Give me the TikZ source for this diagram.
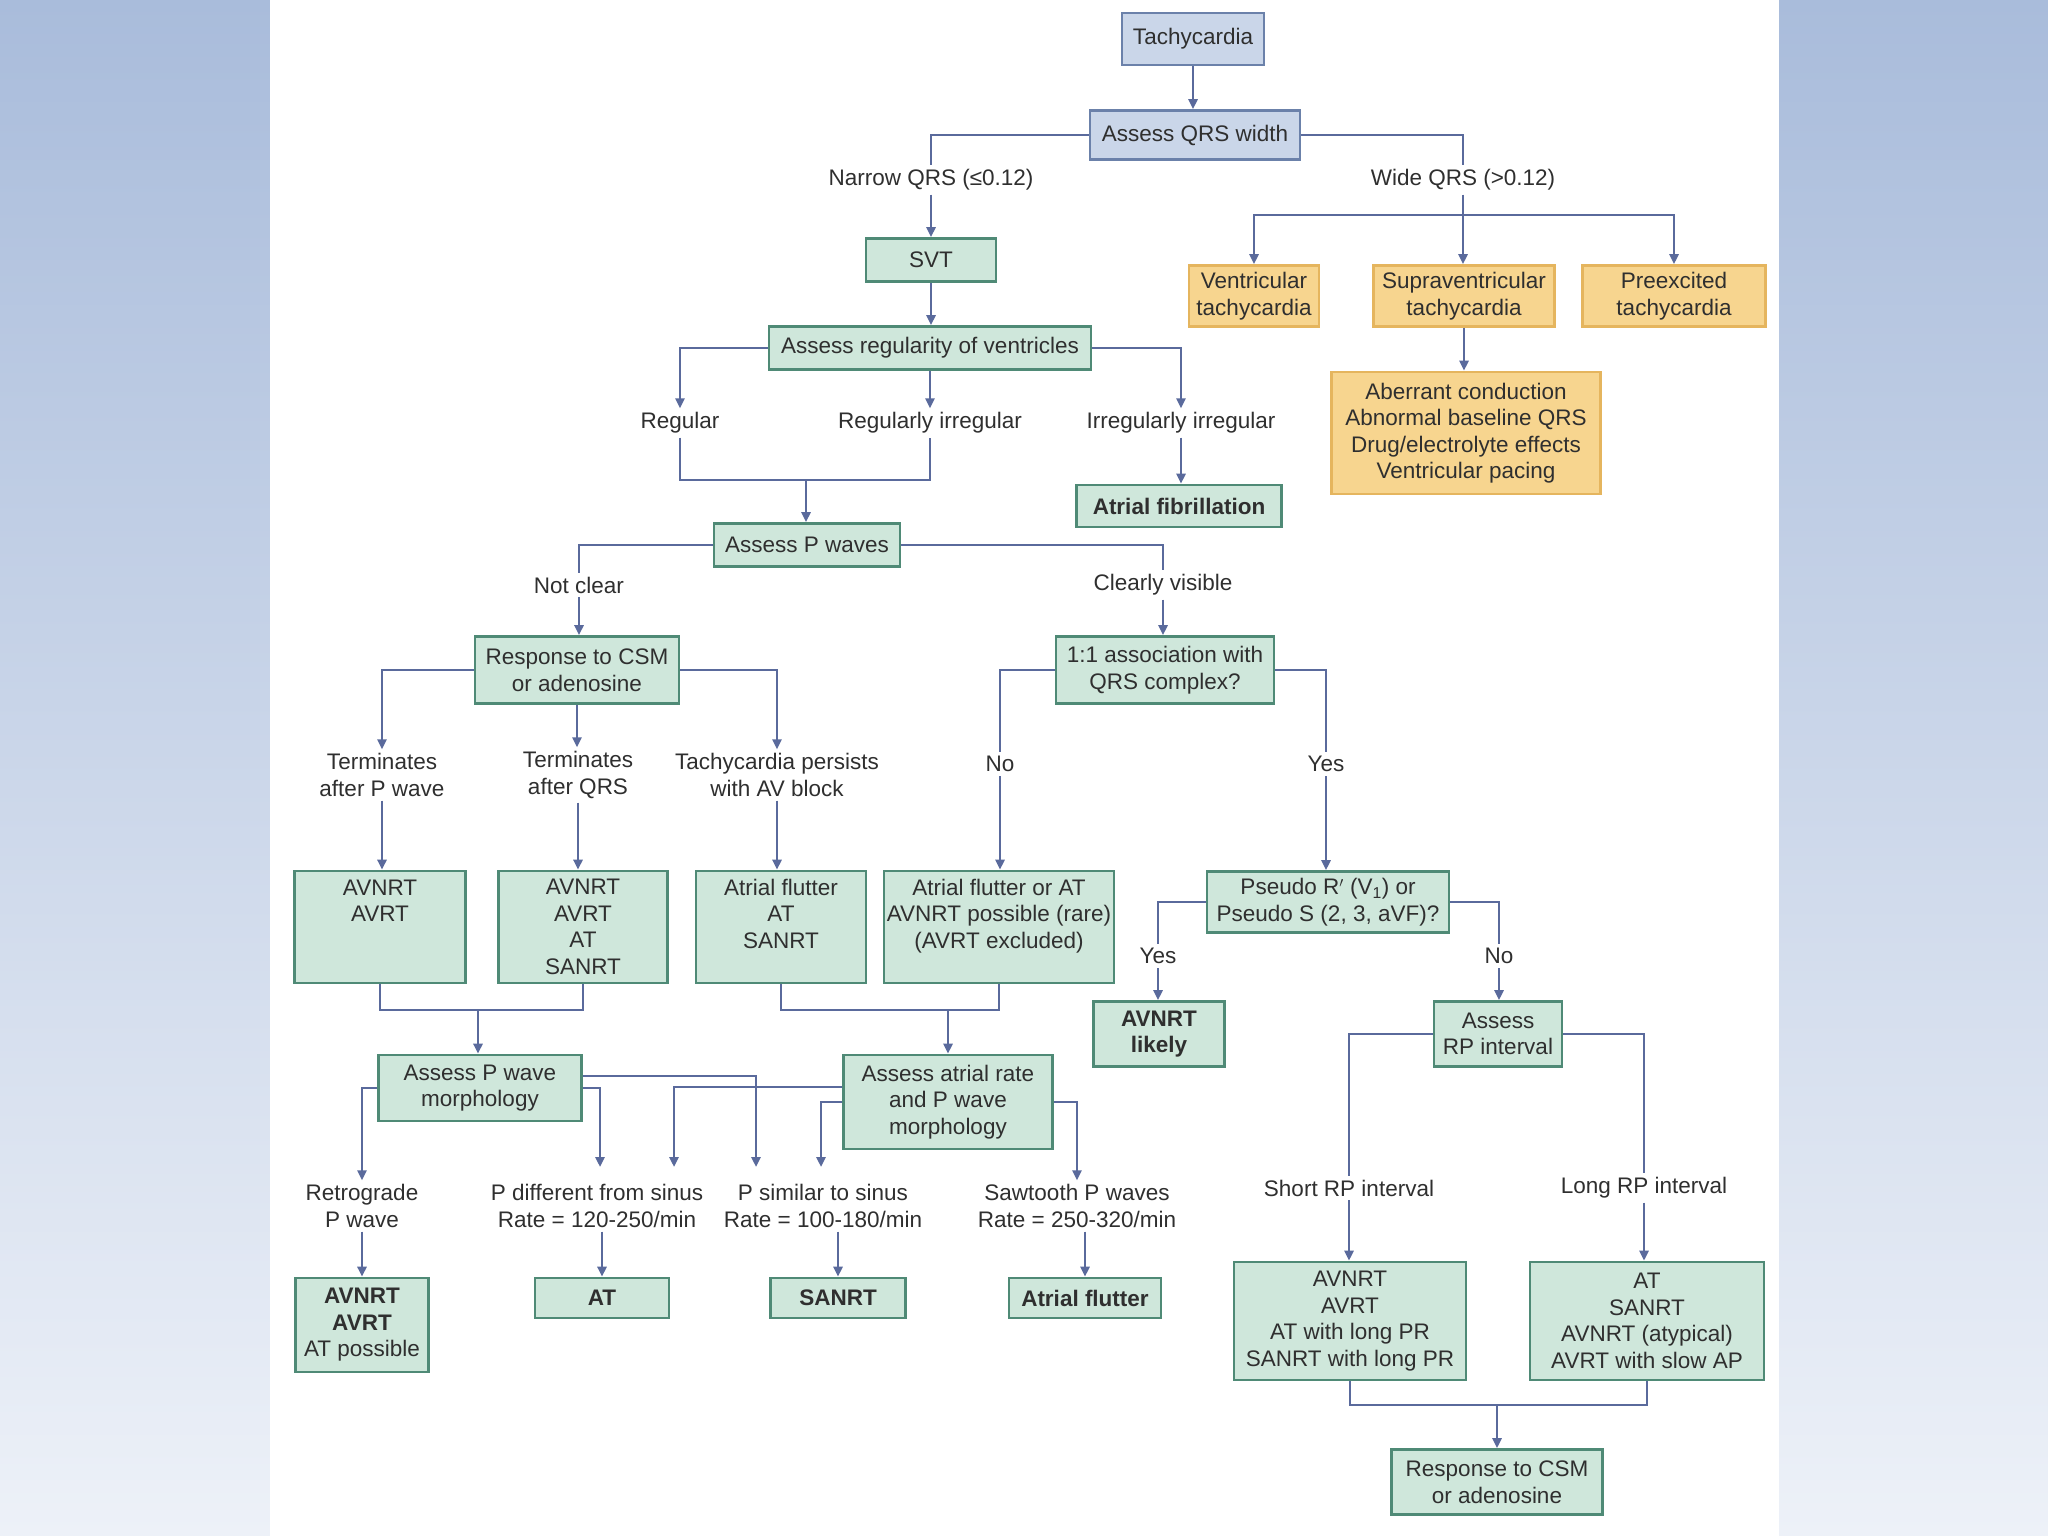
\documentclass[tikz,border=0pt]{standalone}
\usepackage{fontspec}
\setmainfont{Liberation Sans}
\usetikzlibrary{arrows.meta,positioning,calc}
\definecolor{ink}{HTML}{2F2F2F}
\definecolor{lnk}{HTML}{5A6A9C}
\definecolor{bluefill}{HTML}{CAD6E9}
\definecolor{blueline}{HTML}{6B81AA}
\definecolor{grnfill}{HTML}{CFE7DB}
\definecolor{grnline}{HTML}{4F8A76}
\definecolor{orgfill}{HTML}{F7D58F}
\definecolor{orgline}{HTML}{E5B55E}
\definecolor{bgtop}{HTML}{A9BCDB}
\definecolor{bgbot}{HTML}{EDF1F8}
\newcommand\dgfont{\fontsize{22.5}{26.5}\selectfont}
\tikzset{
  base/.style={align=center, inner sep=0pt, font=\dgfont, text=ink, line width=2.6pt},
  dim/.style 2 args={minimum width=#1pt, minimum height=#2pt},
  qbox/.style={base, fill=bluefill, draw=blueline},
  gbox/.style={base, fill=grnfill, draw=grnline},
  obox/.style={base, fill=orgfill, draw=orgline},
  lab/.style={align=center, inner sep=4pt, font=\dgfont, text=ink},
  wire/.style={line width=2.6pt, draw=lnk},
  arr/.style={wire, -{Triangle[length=10pt,width=9pt]}},
}

\begin{document}
\begin{tikzpicture}[x=1pt,y=-1pt]
        \useasboundingbox (0,0) rectangle (2048,1536);
        \fill[top color=bgtop, bottom color=bgbot] (0,0) rectangle (2048,1536);
        \fill[white] (270,0) rectangle (1779,1536);

        \node[qbox, dim={142}{52}] (tachy) at (1193,39) {Tachycardia};
        \node[qbox, dim={210}{49}] (qrs) at (1195,135) {Assess QRS width};
        \node[lab] (narrow) at (931,180) {Narrow QRS (≤0.12)};
        \node[lab] (wide) at (1463,180) {Wide QRS (>0.12)};
        \node[gbox, dim={130}{43}] (svt) at (931,260) {SVT};
        \node[obox, dim={130}{61}] (vt) at (1254,296) {Ventricular\\tachycardia};
        \node[obox, dim={181}{61}] (supra) at (1464,296) {Supraventricular\\tachycardia};
        \node[obox, dim={183}{61}] (pre) at (1674,296) {Preexcited\\tachycardia};
        \node[obox, dim={269}{122}] (aberr) at (1466,433) {Aberrant conduction\\Abnormal baseline QRS\\Drug/electrolyte effects\\Ventricular pacing};
        \node[gbox, dim={322}{43}] (regul) at (930,348) {Assess regularity of ventricles};
        \node[lab] (lreg) at (680,423) {Regular};
        \node[lab] (lregirr) at (930,423) {Regularly irregular};
        \node[lab] (lirr) at (1181,423) {Irregularly irregular};
        \node[gbox, dim={205}{42}] (afib) at (1179,506) {\textbf{Atrial fibrillation}};
        \node[gbox, dim={186}{43}] (pwav) at (807,545) {Assess P waves};
        \node[lab] (lnotclr) at (579,585) {Not clear};
        \node[lab] (lclear) at (1163,585) {Clearly visible};
        \node[gbox, dim={204}{67}] (csm) at (577,670) {Response to CSM\\or adenosine};
        \node[gbox, dim={218}{67}] (assoc) at (1165,670) {1:1 association with\\QRS complex?};
        \node[lab] (ltermp) at (382,775) {Terminates\\after P wave};
        \node[lab] (ltermq) at (578,775) {Terminates\\after QRS};
        \node[lab] (lpers) at (777,775) {Tachycardia persists\\with AV block};
        \node[lab] (lno) at (1000,764) {No};
        \node[lab] (lyes) at (1326,764) {Yes};
        \node[gbox, dim={171}{112}] (rowa) at (380,927) {AVNRT\\AVRT\\~\\~};
        \node[gbox, dim={169}{112}] (rowb) at (583,927) {AVNRT\\AVRT\\AT\\SANRT};
        \node[gbox, dim={170}{112}] (rowc) at (781,927) {Atrial flutter\\AT\\SANRT\\~};
        \node[gbox, dim={230}{112}] (rowd) at (999,927) {Atrial flutter or AT\\AVNRT possible (rare)\\(AVRT excluded)\\~};
        \node[gbox, dim={242}{61}] (pseudo) at (1328,902) {Pseudo R$'$ (V\textsubscript{1}) or\\Pseudo S (2, 3, aVF)?};
        \node[lab] (lyes2) at (1158,956) {Yes};
        \node[lab] (lno2) at (1499,956) {No};
        \node[gbox, dim={131}{65}] (avnrt) at (1159,1034) {\textbf{AVNRT}\\\textbf{likely}};
        \node[gbox, dim={128}{65}] (rpint) at (1498,1034) {Assess\\RP interval};
        \node[lab] (lshort) at (1349,1188) {Short RP interval};
        \node[lab] (llong) at (1644,1188) {Long RP interval};
        \node[gbox, dim={232}{118}] (shortb) at (1350,1321) {AVNRT\\AVRT\\AT with long PR\\SANRT with long PR};
        \node[gbox, dim={234}{118}] (longb) at (1647,1321) {AT\\SANRT\\AVNRT (atypical)\\AVRT with slow AP};
        \node[gbox, dim={211}{65}] (csm2) at (1497,1482) {Response to CSM\\or adenosine};
        \node[gbox, dim={203}{66}] (pmorph) at (480,1088) {Assess P wave\\morphology};
        \node[gbox, dim={209}{94}] (arate) at (948,1102) {Assess atrial rate\\and P wave\\morphology};
        \node[lab] (lretro) at (362,1206) {Retrograde\\P wave};
        \node[lab] (lpdiff) at (597,1206) {P different from sinus\\Rate = 120-250/min};
        \node[lab] (lpsim) at (823,1206) {P similar to sinus\\Rate = 100-180/min};
        \node[lab] (lsaw) at (1077,1206) {Sawtooth P waves\\Rate = 250-320/min};
        \node[gbox, dim={133}{94}] (fina) at (362,1325) {\textbf{AVNRT}\\\textbf{AVRT}\\AT possible};
        \node[gbox, dim={134}{40}] (finat) at (602,1298) {\textbf{AT}};
        \node[gbox, dim={135}{40}] (finsan) at (838,1298) {\textbf{SANRT}};
        \node[gbox, dim={152}{40}] (finaf) at (1085,1298) {\textbf{Atrial flutter}};

        \coordinate (wbar) at (1463,215);
        \coordinate (rmid) at (806,480);
        \coordinate (m1) at (478,1010);
        \coordinate (m2) at (948,1010);
        \coordinate (m3) at (1497,1405);
        \coordinate (d1) at (600,1167);
        \coordinate (d2) at (756,1167);
        \coordinate (d3) at (674,1167);
        \coordinate (d4) at (821,1167);

        \draw[arr] (tachy.south) -- (tachy.south |- qrs.north);
        \draw[wire] (qrs.west) -| (narrow.north);
        \draw[wire] (qrs.east) -| (wide.north);
        \draw[arr] (narrow.south) -- (svt.north);
        \draw[arr] (wide.south) -- (wide.south |- supra.north);
        \draw[arr] (wbar) -| (vt.north);
        \draw[arr] (wbar) -| (pre.north);
        \draw[arr] (supra.south) -- (supra.south |- aberr.north);
        \draw[arr] (svt.south) -- (svt.south |- regul.north);
        \draw[arr] (regul.west) -| (lreg.north);
        \draw[arr] (regul.south) -- (regul.south |- lregirr.north);
        \draw[arr] (regul.east) -| (lirr.north);
        \draw[arr] (lirr.south) -- (lirr.south |- afib.north);
        \draw[wire] (lreg.south) |- (rmid) -| (lregirr.south);
        \draw[arr] (rmid) -- (rmid |- pwav.north);
        \draw[wire] (pwav.west) -| (lnotclr.north);
        \draw[wire] (pwav.east) -| (lclear.north);
        \draw[arr] (lnotclr.south) -- (lnotclr.south |- csm.north);
        \draw[arr] (lclear.south) -- (lclear.south |- assoc.north);
        \draw[arr] (csm.west) -| (ltermp.north);
        \draw[arr] (csm.south) -- (csm.south |- ltermq.north);
        \draw[arr] (csm.east) -| (lpers.north);
        \draw[arr] (ltermp.south) -- (ltermp.south |- rowa.north);
        \draw[arr] (ltermq.south) -- (ltermq.south |- rowb.north);
        \draw[arr] (lpers.south) -- (lpers.south |- rowc.north);
        \draw[wire] (assoc.west) -| (lno.north);
        \draw[wire] (assoc.east) -| (lyes.north);
        \draw[arr] (lno.south) -- (lno.south |- rowd.north);
        \draw[arr] (lyes.south) -- (lyes.south |- pseudo.north);
        \draw[wire] (pseudo.west) -| (lyes2.north);
        \draw[wire] (pseudo.east) -| (lno2.north);
        \draw[arr] (lyes2.south) -- (lyes2.south |- avnrt.north);
        \draw[arr] (lno2.south) -- (lno2.south |- rpint.north);
        \draw[wire] (rpint.west) -| (lshort.north);
        \draw[wire] (rpint.east) -| (llong.north);
        \draw[arr] (lshort.south) -- (lshort.south |- shortb.north);
        \draw[arr] (llong.south) -- (llong.south |- longb.north);
        \draw[wire] (shortb.south) |- (m3) -| (longb.south);
        \draw[arr] (m3) -- (m3 |- csm2.north);
        \draw[wire] (rowa.south) |- (m1) -| (rowb.south);
        \draw[wire] (rowc.south) |- (m2) -| (rowd.south);
        \draw[arr] (m1) -- (m1 |- pmorph.north);
        \draw[arr] (m2) -- (m2 |- arate.north);
        \draw[arr] (pmorph.west) -| (lretro.north);
        \draw[arr] (pmorph.east) -| (d1);
        \draw[arr] ([yshift=12pt]pmorph.east) -| (d2);
        \draw[arr] ([yshift=15pt]arate.west) -| (d3);
        \draw[arr] (arate.west) -| (d4);
        \draw[arr] (arate.east) -| (lsaw.north);
        \draw[arr] (lretro.south) -- (lretro.south |- fina.north);
        \draw[arr] (finat.north |- lpdiff.south) -- (finat.north);
        \draw[arr] (finsan.north |- lpsim.south) -- (finsan.north);
        \draw[arr] (finaf.north |- lsaw.south) -- (finaf.north);
      \end{tikzpicture}
\end{document}
